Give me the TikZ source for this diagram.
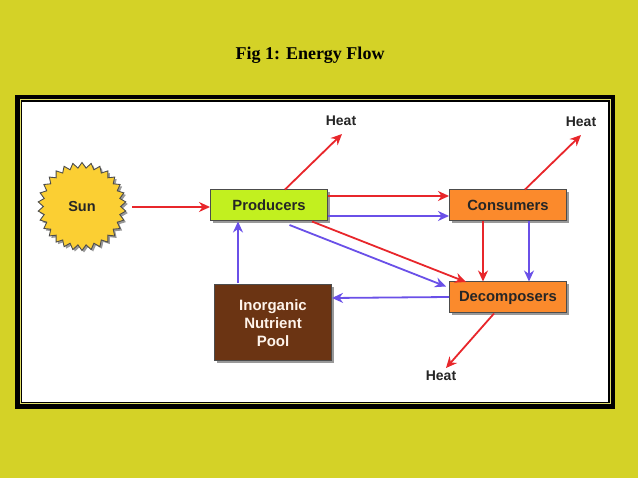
\documentclass[tikz,border=0pt]{standalone}
\usepackage{fontspec}
\setmainfont{Liberation Sans}
\newfontfamily\titlefont{Liberation Serif}
\usetikzlibrary{shapes.geometric,shadows,arrows.meta}
\definecolor{slidebg}{HTML}{D4D227}
\definecolor{sunfill}{HTML}{FBCF33}
\definecolor{prodfill}{HTML}{C2F01F}
\definecolor{consfill}{HTML}{FB8A2C}
\definecolor{poolfill}{HTML}{6B3413}
\definecolor{heatred}{HTML}{E8262B}
\definecolor{nutblue}{HTML}{6A50E8}
\tikzset{
  softshadow/.style={drop shadow={shadow xshift=2pt, shadow yshift=-2pt, fill=black, opacity=0.4}},
  box/.style={draw=black!70, line width=1pt, minimum width=117pt, minimum height=31pt, inner sep=0pt,
    font=\fontsize{14.8}{16}\selectfont\bfseries, text=black!85, softshadow},
  heat/.style={font=\fontsize{14}{15}\selectfont\bfseries, text=black!85},
  energy/.style={draw=heatred, line width=1.8pt, -{Stealth[length=11pt,width=10pt]}},
  nutrient/.style={draw=nutblue, line width=1.8pt, -{Stealth[length=11pt,width=10pt]}}
}
\begin{document}
\begin{tikzpicture}[x=1pt,y=-1pt]
\useasboundingbox (0,0) rectangle (638,478);
\fill[slidebg] (0,0) rectangle (638,478);
\node[font=\titlefont\fontsize{18}{20}\selectfont\bfseries] (title) at (310,55) {Fig 1: Energy Flow};

% frame
\fill[black] (15,95) rectangle (615,409);
\fill[slidebg!70!white] (19.5,99.5) rectangle (610.5,404.5);
\fill[black] (20.5,100.5) rectangle (609.5,403.5);
\fill[white] (22,102) rectangle (608,402);

% boxes
\node[star, star points=30, star point ratio=1.14, draw=black!70, line width=0.9pt, fill=sunfill, minimum size=88pt, inner sep=0pt,
  softshadow] (sun) at (82,206.5) {};
\node[font=\fontsize{14.5}{16}\selectfont\bfseries, text=black!85] (sunlabel) at (82,207) {Sun};
\node[box, fill=prodfill] (producers) at (269,205.5) {Producers};
\node[box, fill=consfill] (consumers) at (508,205.5) {Consumers};
\node[box, fill=consfill] (decomposers) at (508,297.5) {Decomposers};
\node[box, fill=poolfill, minimum height=76pt, text=white!90!consfill, align=center, font=\fontsize{15}{18}\selectfont\bfseries] (pool) at (273,323) {Inorganic\\Nutrient\\Pool};

\node[heat] (heata) at (341,121) {Heat};
\node[heat] (heatb) at (581,122) {Heat};
\node[heat] (heatc) at (441,376) {Heat};

% free ends
\coordinate (heataend) at (342,134);
\coordinate (heatbend) at (581,135);
\coordinate (heatcend) at (446,368);
\coordinate (sunend) at (132,207);
\coordinate (poolend) at (238,283);

% energy
\draw[energy] (sunend) -- (producers.west |- 0,207);
\draw[energy] (producers.north -| 285,0) -- (heataend);
\draw[energy] (consumers.north -| 525,0) -- (heatbend);
\draw[energy] (producers.east |- 0,196) -- (consumers.west |- 0,196);
\draw[energy] (producers.south -| 312,0) -- (466,282);
\draw[energy] (consumers.south -| 483,0) -- (decomposers.north -| 483,0);
\draw[energy] (decomposers.south -| 494,0) -- (heatcend);

% nutrients
\draw[nutrient] (producers.east |- 0,216) -- (consumers.west |- 0,216);
\draw[nutrient] (289.5,225) -- (446,286.5);
\draw[nutrient] (consumers.south -| 529,0) -- (decomposers.north -| 529,0);
\draw[nutrient] (decomposers.west |- 0,297) -- (pool.east |- 0,298);
\draw[nutrient] (poolend) -- (producers.south -| 238,0);
\end{tikzpicture}
\end{document}
